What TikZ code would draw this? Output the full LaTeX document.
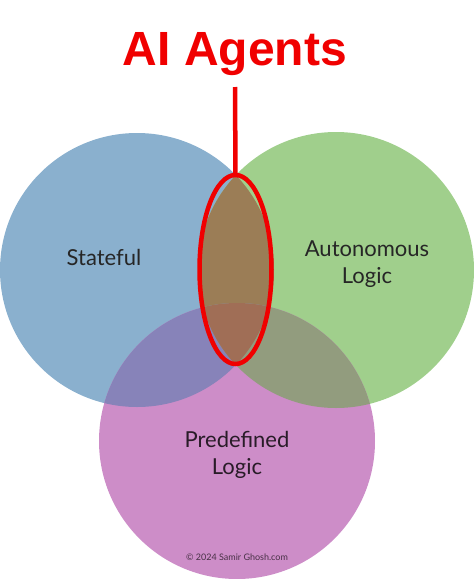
\documentclass[tikz,border=0pt]{standalone}
\usepackage{fontspec}
\setmainfont{Lato}
\newfontfamily\titlefont{Liberation Sans}
\usetikzlibrary{shapes.geometric}

\definecolor{stateblue}{RGB}{138,176,206}
\definecolor{autogreen}{RGB}{160,207,140}
\definecolor{predpink}{RGB}{205,141,200}
\definecolor{bluegreen}{RGB}{155,125,86}
\definecolor{bluepink}{RGB}{135,131,185}
\definecolor{greenpink}{RGB}{146,156,126}
\definecolor{allthree}{RGB}{160,110,86}
\definecolor{agentred}{RGB}{240,0,0}

\begin{document}
\begin{tikzpicture}[x=1pt,y=-1pt,
    lbl/.style={font=\fontsize{22}{27.5}\selectfont, text=black!85, align=center, inner sep=0pt},
    agentline/.style={draw=agentred, line width=4.5pt}]
  \useasboundingbox (0,0) rectangle (474,579);
  % the three sets
  \fill[stateblue] (137,270) circle[radius=137];
  \fill[autogreen] (336,270) circle[radius=138];
  \fill[predpink] (237,441) circle[radius=138];
  % overlaps
  \begin{scope}
    \clip (137,270) circle[radius=137];
    \fill[bluegreen] (336,270) circle[radius=138];
    \fill[bluepink] (237,441) circle[radius=138];
  \end{scope}
  \begin{scope}
    \clip (336,270) circle[radius=138];
    \fill[greenpink] (237,441) circle[radius=138];
    \clip (137,270) circle[radius=137];
    \fill[allthree] (237,441) circle[radius=138];
  \end{scope}
  % labels
  \node[lbl] (stateful) at (104,257.5) {Stateful};
  \node[lbl] (autonomous) at (367,264) {Autonomous\\Logic};
  \node[lbl, text=black!80!predpink] (predefined) at (237,455) {Predefined\\Logic};
  \node[font=\fontsize{9}{11}\selectfont, text=black!65!predpink] (copyright) at (237,557) {© 2024 Samir Ghosh.com};
  % AI agents
  \node[font=\titlefont\bfseries\fontsize{48}{52}\selectfont, text=agentred, anchor=base, inner sep=0pt] (title) at (235,65) {AI Agents};
  \coordinate (stem) at (235,87);
  \node[agentline, ellipse, minimum width=72pt, minimum height=189pt, inner sep=0pt, outer sep=0pt] (agents) at (235.5,269.5) {};
  \draw[agentline] (stem) -- (agents.north);
\end{tikzpicture}
\end{document}
